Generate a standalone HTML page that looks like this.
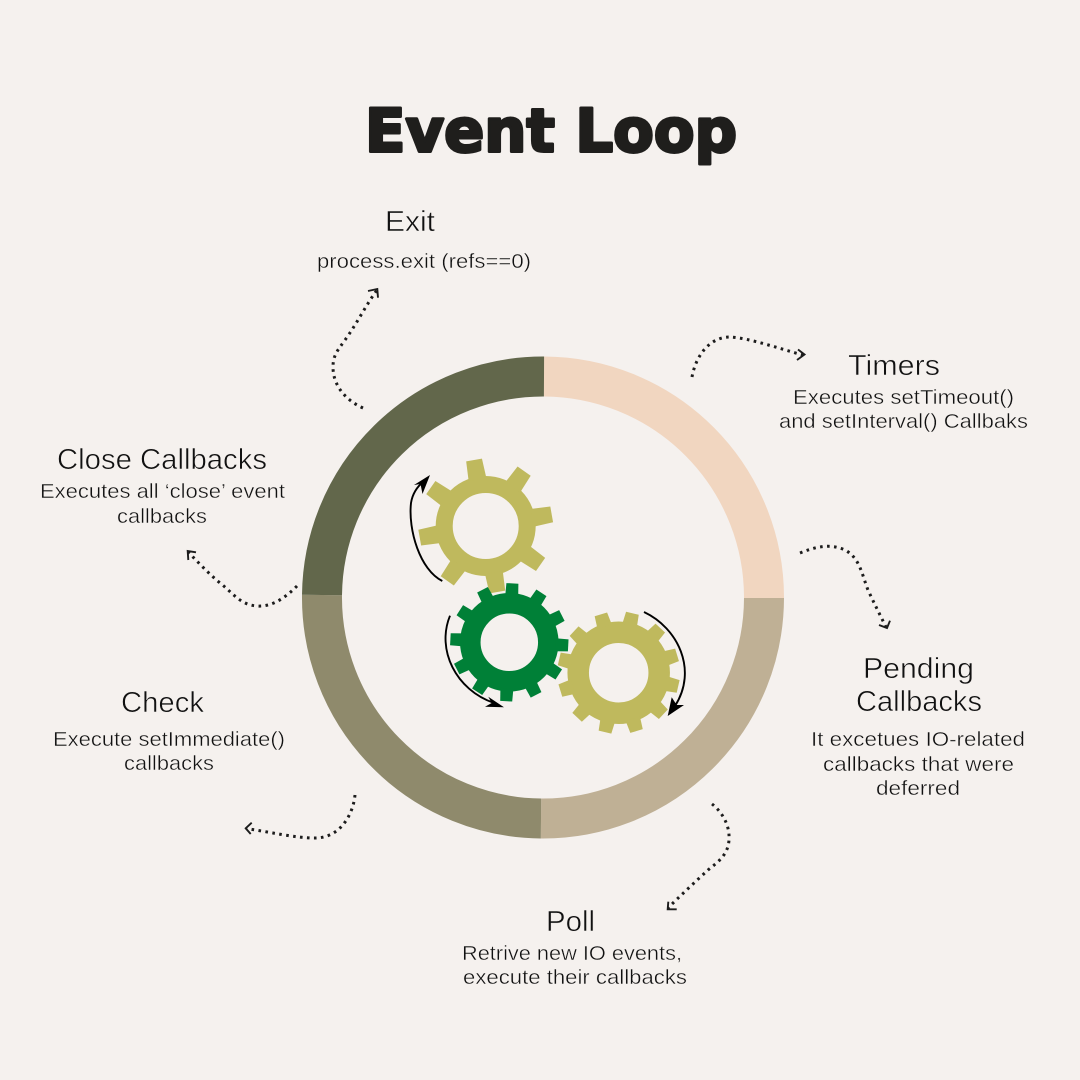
<!DOCTYPE html>
<html><head><meta charset="utf-8"><title>Event Loop</title>
<style>html,body{margin:0;padding:0;background:#f5f1ee}svg{display:block}
text{font-family:"Liberation Sans",sans-serif}
.h{font-size:29px;fill:#111;stroke:#f5f1ee;stroke-width:.55}
.s{font-size:20.5px;fill:#111;stroke:#f5f1ee;stroke-width:.4}
.d{fill:none;stroke:#1c1c1c;stroke-width:3;stroke-dasharray:2.6 4.4}
.c{fill:none;stroke:#1c1c1c;stroke-width:1.9}
.k{fill:none;stroke:#000;stroke-width:1.9}
</style></head><body>
<svg xmlns="http://www.w3.org/2000/svg" width="1080" height="1080" viewBox="0 0 1080 1080">
<rect width="1080" height="1080" fill="#f5f1ee"/>
<text x="365" y="151.5" textLength="372" lengthAdjust="spacingAndGlyphs" style="font-family:'DejaVu Sans','Liberation Sans',sans-serif;font-size:60px;font-weight:700;fill:#1f1e1c;stroke:#1f1e1c;stroke-width:3;stroke-linejoin:round">Event Loop</text>

<g fill="none" stroke-width="40">
<path d="M544 376.5A221 221 0 0 1 764 598" stroke="#f1d6c0"/>
<path d="M764 598A221 221 0 0 1 541 818.5" stroke="#bfb095"/>
<path d="M541 818.5A221 221 0 0 1 322 595" stroke="#8f8a6c"/>
<path d="M322 595A221 221 0 0 1 544 376.5" stroke="#62674b"/>
</g>

<g transform="translate(485.7 526)" fill="#bfb95d">
<circle r="41.5" fill="none" stroke="#bfb95d" stroke-width="17"/>
<polygon points="-9,-47 -8,-67 8,-67 9,-47" transform="rotate(-10)"/>
<polygon points="-9,-47 -8,-67 8,-67 9,-47" transform="rotate(35)"/>
<polygon points="-9,-47 -8,-67 8,-67 9,-47" transform="rotate(80)"/>
<polygon points="-9,-47 -8,-67 8,-67 9,-47" transform="rotate(125)"/>
<polygon points="-9,-47 -8,-67 8,-67 9,-47" transform="rotate(170)"/>
<polygon points="-9,-47 -8,-67 8,-67 9,-47" transform="rotate(215)"/>
<polygon points="-9,-47 -8,-67 8,-67 9,-47" transform="rotate(260)"/>
<polygon points="-9,-47 -8,-67 8,-67 9,-47" transform="rotate(305)"/>
</g>
<g transform="translate(509.3 642.3)" fill="#008037">
<circle r="39" fill="none" stroke="#008037" stroke-width="20.5"/>
<polygon points="-6.5,-46 -6,-59 6,-59 6.5,-46" transform="rotate(3)"/>
<polygon points="-6.5,-46 -6,-59 6,-59 6.5,-46" transform="rotate(33)"/>
<polygon points="-6.5,-46 -6,-59 6,-59 6.5,-46" transform="rotate(63)"/>
<polygon points="-6.5,-46 -6,-59 6,-59 6.5,-46" transform="rotate(93)"/>
<polygon points="-6.5,-46 -6,-59 6,-59 6.5,-46" transform="rotate(123)"/>
<polygon points="-6.5,-46 -6,-59 6,-59 6.5,-46" transform="rotate(153)"/>
<polygon points="-6.5,-46 -6,-59 6,-59 6.5,-46" transform="rotate(183)"/>
<polygon points="-6.5,-46 -6,-59 6,-59 6.5,-46" transform="rotate(213)"/>
<polygon points="-6.5,-46 -6,-59 6,-59 6.5,-46" transform="rotate(243)"/>
<polygon points="-6.5,-46 -6,-59 6,-59 6.5,-46" transform="rotate(273)"/>
<polygon points="-6.5,-46 -6,-59 6,-59 6.5,-46" transform="rotate(303)"/>
<polygon points="-6.5,-46 -6,-59 6,-59 6.5,-46" transform="rotate(333)"/>
</g>
<g transform="translate(618.7 672.7)" fill="#bfb95d">
<circle r="40.5" fill="none" stroke="#bfb95d" stroke-width="21.5"/>
<polygon points="-7.5,-48 -6.5,-61 6.5,-61 7.5,-48" transform="rotate(13)"/>
<polygon points="-7.5,-48 -6.5,-61 6.5,-61 7.5,-48" transform="rotate(43)"/>
<polygon points="-7.5,-48 -6.5,-61 6.5,-61 7.5,-48" transform="rotate(73)"/>
<polygon points="-7.5,-48 -6.5,-61 6.5,-61 7.5,-48" transform="rotate(103)"/>
<polygon points="-7.5,-48 -6.5,-61 6.5,-61 7.5,-48" transform="rotate(133)"/>
<polygon points="-7.5,-48 -6.5,-61 6.5,-61 7.5,-48" transform="rotate(163)"/>
<polygon points="-7.5,-48 -6.5,-61 6.5,-61 7.5,-48" transform="rotate(193)"/>
<polygon points="-7.5,-48 -6.5,-61 6.5,-61 7.5,-48" transform="rotate(223)"/>
<polygon points="-7.5,-48 -6.5,-61 6.5,-61 7.5,-48" transform="rotate(253)"/>
<polygon points="-7.5,-48 -6.5,-61 6.5,-61 7.5,-48" transform="rotate(283)"/>
<polygon points="-7.5,-48 -6.5,-61 6.5,-61 7.5,-48" transform="rotate(313)"/>
<polygon points="-7.5,-48 -6.5,-61 6.5,-61 7.5,-48" transform="rotate(343)"/>
</g>

<path class="k" d="M442.3 581C420 570 408 530 411 503Q413 490 424 481"/>
<polygon points="430,475 414,485 420.5,484 422.5,494" fill="#000"/>
<path class="k" d="M450 615.7C436 650 456 690 494 703"/>
<polygon points="504,707.3 485,706.7 491.7,703 488.3,696.7" fill="#000"/>
<path class="k" d="M644 612C678 628 698 670 675 706"/>
<polygon points="667.7,716 684,705 676.7,705 671.7,697.3" fill="#000"/>

<path class="d" d="M692 377C696 355 710 337 730 337C750 338 780 349 803 355"/>
<path class="c" d="M798 349.5L804.5 354.5L797 360"/>
<path class="d" d="M800 553C815 547 830 543 845 550C860 558 862 575 868 590C874 603 880 615 886 627"/>
<path class="c" d="M890 620.7L887 628L879 625"/>
<path class="d" d="M363 408C345 400 333 385 333 367C333 355 338 350 345 340C356 325 366 305 377 290"/>
<path class="c" d="M368 291L377.3 289L378 297.7"/>
<path class="d" d="M297 586C285 598 272 607 257 606C240 605 232 592 220 583C208 573 198 562 188 552"/>
<path class="c" d="M196 552.3L187.7 551L188.3 560"/>
<path class="d" d="M355 795C353 815 340 838 315 838C295 838 270 832 246 828.5"/>
<path class="c" d="M251.7 822.7L245.7 828.3L250.7 834"/>
<path class="d" d="M712 804C722 812 730 825 729 840C728 855 718 862 708 870C695 882 680 896 668 908"/>
<path class="c" d="M668.3 901.7L667.7 909.3L676.7 909.3"/>

<text class="h" x="385" y="231" textLength="50" lengthAdjust="spacingAndGlyphs">Exit</text>
<text class="s" x="317" y="268" textLength="214" lengthAdjust="spacingAndGlyphs">process.exit (refs==0)</text>
<text class="h" x="848" y="375" textLength="92" lengthAdjust="spacingAndGlyphs">Timers</text>
<text class="s" x="793" y="404" textLength="221" lengthAdjust="spacingAndGlyphs">Executes setTimeout()</text>
<text class="s" x="779" y="428" textLength="249" lengthAdjust="spacingAndGlyphs">and setInterval() Callbaks</text>
<text class="h" x="57" y="469" textLength="210" lengthAdjust="spacingAndGlyphs">Close Callbacks</text>
<text class="s" x="40" y="498" textLength="245" lengthAdjust="spacingAndGlyphs">Executes all ‘close’ event</text>
<text class="s" x="117" y="523" textLength="90" lengthAdjust="spacingAndGlyphs">callbacks</text>
<text class="h" x="863" y="678" textLength="111" lengthAdjust="spacingAndGlyphs">Pending</text>
<text class="h" x="856" y="711" textLength="126" lengthAdjust="spacingAndGlyphs">Callbacks</text>
<text class="s" x="811" y="746" textLength="214" lengthAdjust="spacingAndGlyphs">It excetues IO-related</text>
<text class="s" x="823" y="771" textLength="191" lengthAdjust="spacingAndGlyphs">callbacks that were</text>
<text class="s" x="876" y="795" textLength="84" lengthAdjust="spacingAndGlyphs">deferred</text>
<text class="h" x="121" y="712" textLength="83" lengthAdjust="spacingAndGlyphs">Check</text>
<text class="s" x="53" y="746" textLength="232" lengthAdjust="spacingAndGlyphs">Execute setImmediate()</text>
<text class="s" x="124" y="770" textLength="90" lengthAdjust="spacingAndGlyphs">callbacks</text>
<text class="h" x="546" y="931" textLength="49" lengthAdjust="spacingAndGlyphs">Poll</text>
<text class="s" x="462" y="960" textLength="220" lengthAdjust="spacingAndGlyphs">Retrive new IO events,</text>
<text class="s" x="463" y="984" textLength="224" lengthAdjust="spacingAndGlyphs">execute their callbacks</text>
</svg>
</body></html>
